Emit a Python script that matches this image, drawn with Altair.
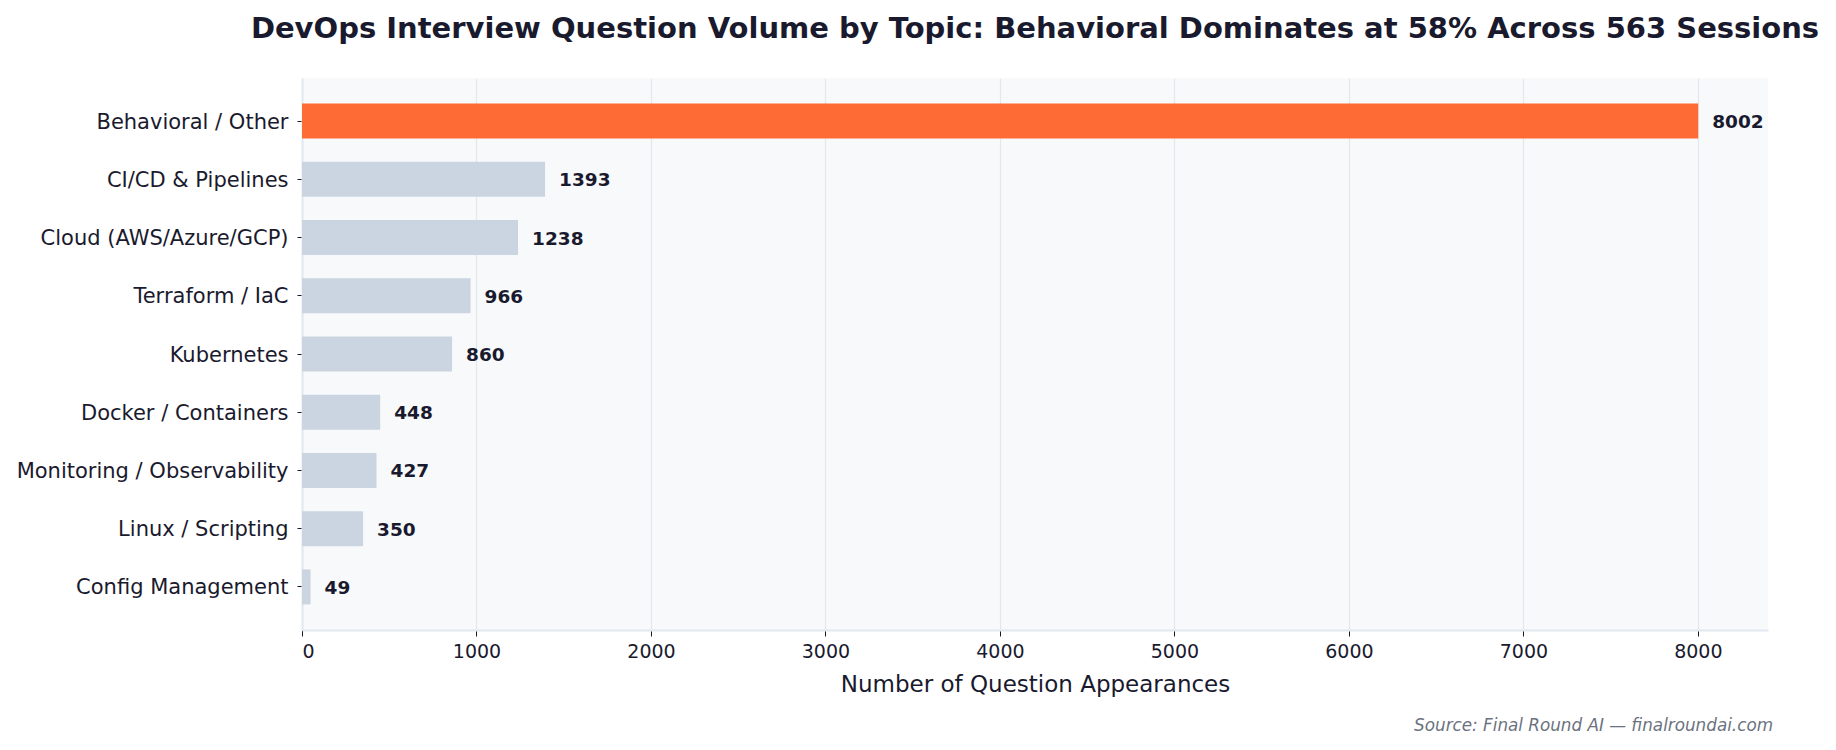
import altair as alt
import pandas as pd

# Question counts per DevOps topic, largest first
topics = [
    "Behavioral / Other",
    "CI/CD & Pipelines",
    "Cloud (AWS/Azure/GCP)",
    "Terraform / IaC",
    "Kubernetes",
    "Docker / Containers",
    "Monitoring / Observability",
    "Linux / Scripting",
    "Config Management",
]
counts = [8002, 1393, 1238, 966, 860, 448, 427, 350, 49]
x_ticks = [0, 1000, 2000, 3000, 4000, 5000, 6000, 7000, 8000]

HIGHLIGHT = "#FF6B35"
MUTED = "#CBD5E1"
INK = "#1a1a2e"
FONT = "DejaVu Sans"

df = pd.DataFrame({"topic": topics, "count": counts})
df["group"] = ["top" if i == 0 else "rest" for i in range(len(df))]

W, H = 1466, 552

y_enc = alt.Y(
    "topic:N",
    sort=topics,
    title=None,
    scale=alt.Scale(paddingInner=0.4, paddingOuter=0.44),
    axis=alt.Axis(
        labelFontSize=21,
        labelColor=INK,
        labelFont=FONT,
        labelPadding=9,
        labelLimit=0,
        labelOffset=1.5,
        tickSize=5,
        tickColor=INK,
        domainColor="#e2e8f0",
        domainWidth=2,
        grid=False,
    ),
)

x_scale = alt.Scale(domain=[0, 8402], nice=False, zero=True)

bars = alt.Chart(df).mark_bar().encode(
    x=alt.X(
        "count:Q",
        scale=x_scale,
        title="Number of Question Appearances",
        axis=alt.Axis(
            values=x_ticks,
            format="d",
            labelFontSize=19,
            labelColor=INK,
            labelFont=FONT,
            labelPadding=6,
            tickSize=6,
            tickColor=INK,
            domainColor="#e2e8f0",
            domainWidth=2,
            grid=True,
            gridColor="#e5e7eb",
            gridWidth=1.2,
            titleFontSize=23,
            titleFont=FONT,
            titleFontWeight="normal",
            titleColor=INK,
            titlePadding=12,
        ),
    ),
    y=y_enc,
    color=alt.Color(
        "group:N",
        scale=alt.Scale(domain=["top", "rest"], range=[HIGHLIGHT, MUTED]),
        legend=None,
    ),
)

labels = alt.Chart(df).mark_text(
    align="left",
    baseline="middle",
    dx=14,
    dy=1,
    fontSize=18.5,
    fontWeight="bold",
    font=FONT,
    color=INK,
).encode(
    x=alt.X("count:Q", scale=x_scale),
    y=alt.Y("topic:N", sort=topics),
    text=alt.Text("count:Q", format="d"),
)

source = alt.Chart(pd.DataFrame({"t": ["Source: Final Round AI \u2014 finalroundai.com"]})).mark_text(
    align="right",
    baseline="middle",
    fontSize=16.8,
    fontStyle="italic",
    font=FONT,
    color="#6b7280",
).encode(
    x=alt.value(W + 5),
    y=alt.value(H + 96),
    text="t:N",
)

chart = (
    alt.layer(bars, labels, source)
    .properties(
        width=W,
        height=H,
        autosize=alt.AutoSizeParams(type="none"),
        padding={"left": 302, "top": 78, "right": 68, "bottom": 119},
        background="white",
        title=alt.TitleParams(
            "DevOps Interview Question Volume by Topic: Behavioral Dominates at 58% Across 563 Sessions",
            fontSize=29,
            font=FONT,
            fontWeight="bold",
            color=INK,
            anchor="middle",
            offset=34,
        ),
    )
    .configure_view(fill="#f8f9fb", strokeWidth=0)
)

chart.save("out.html", embed_options={"renderer": "svg", "actions": False})
